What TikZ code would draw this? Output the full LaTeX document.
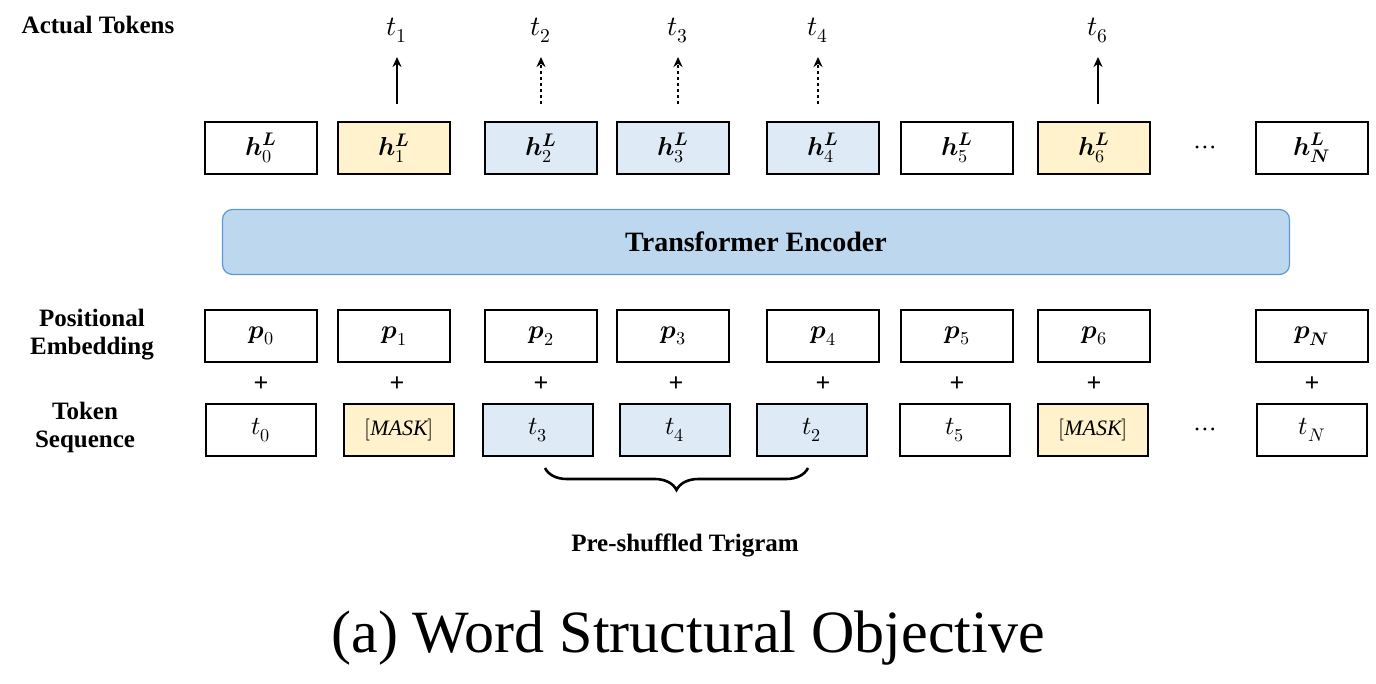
\documentclass[tikz,border=0pt]{standalone}
\usepackage{fontspec}
\usepackage{unicode-math}
\setmainfont{Liberation Serif}
\setmathfont{Latin Modern Math}
\usetikzlibrary{decorations.pathreplacing,arrows.meta}
\definecolor{yel}{HTML}{FFF2CC}
\definecolor{lblue}{HTML}{DEEBF7}
\definecolor{tblue}{HTML}{BDD7EE}
\definecolor{tborder}{HTML}{5B9BD5}
\begin{document}
\begin{tikzpicture}[x=1pt,y=-1pt,
  bx/.style={draw,line width=1.2pt,minimum width=112pt,minimum height=52pt,inner sep=0pt,font=\fontsize{26}{30}\selectfont},
  lab/.style={font=\bfseries\fontsize{25}{28}\selectfont,align=center},
  tok/.style={font=\fontsize{28}{32}\selectfont},
  ar/.style={-{Stealth[length=10pt,width=9pt]},line width=2.2pt,dash pattern=on 7pt off 4pt}]
\useasboundingbox (0,0) rectangle (1376,684);
% top h row
\foreach \n/\x/\c/\s in {h0/261/white/0,h1/394/yel/1,h2/541/lblue/2,h3/673/lblue/3,h4/823/lblue/4,h5/957/white/5,h6/1094/yel/6,hN/1312/white/N}
  \node[bx,fill=\c] (\n) at (\x,148) {$\symbfit{h}^{\symbfit{L}}_{\symbfit{\s}}$};
\node[tok] (hd) at (1205,150) {$\cdots$};
% encoder
\node[draw=tborder,fill=tblue,line width=1.2pt,rounded corners=10pt,minimum width=1067pt,minimum height=65pt,font=\bfseries\fontsize{28}{32}\selectfont] (enc) at (756,242) {Transformer Encoder};
% p row
\foreach \n/\x/\s in {p0/261/0,p1/394/1,p2/541/2,p3/673/3,p4/823/4,p5/957/5,p6/1094/6,pN/1312/N}
  \node[bx] (\n) at (\x,336) {$\symbfit{p}_{\symbfit{\s}}$};
% plus
\foreach \n/\x in {s0/261,s1/397,s2/541,s3/676,s4/823,s5/957,s6/1094,sN/1312}
  \node[font=\bfseries\fontsize{26}{28}\selectfont] (\n) at (\x,384) {+};
% token row
\foreach \n/\x/\c/\t in {t0/261/white/{$t_0$},m1/399/yel/{\fontsize{22}{26}\selectfont$[\mathit{MASK}]$},t3/538/lblue/{$t_3$},t4/675/lblue/{$t_4$},t2/812/lblue/{$t_2$},t5/955/white/{$t_5$},m6/1093/yel/{\fontsize{22}{26}\selectfont$[\mathit{MASK}]$},tN/1312/white/{$t_N$}}
  \node[bx,minimum width=110pt,fill=\c] (\n) at (\x,430) {\t};
\node[tok] (td) at (1205,432) {$\cdots$};
% actual tokens
\foreach \n/\x/\s/\st in {a1/397/1/solid,a2/541/2/dashed,a3/678/3/dashed,a4/818/4/dashed,a6/1098/6/solid}{
  \node[tok] (\n) at (\x,30) {$t_{\s}$};
  \coordinate (c\n) at (\x,104);
  \draw[ar,\st] (c\n) -- ++(0,-47);
}
% labels
\node[lab] (l1) at (98,25) {Actual Tokens};
\node[lab] (l2) at (92,335) {Positional\\Embedding};
\node[lab] (l3) at (85,427) {Token\\Sequence};
% brace
\coordinate (b1) at (545,468);
\coordinate (b2) at (808,468);
\draw[line width=2.6pt,decorate,decoration={brace,mirror,amplitude=22pt}] (b1) -- (b2);
\node[lab] (pst) at (685,545) {Pre-shuffled Trigram};
\node[font=\fontsize{60}{66}\selectfont] (cap) at (688,638) {(a) Word Structural Objective};
\end{tikzpicture}
\end{document}
